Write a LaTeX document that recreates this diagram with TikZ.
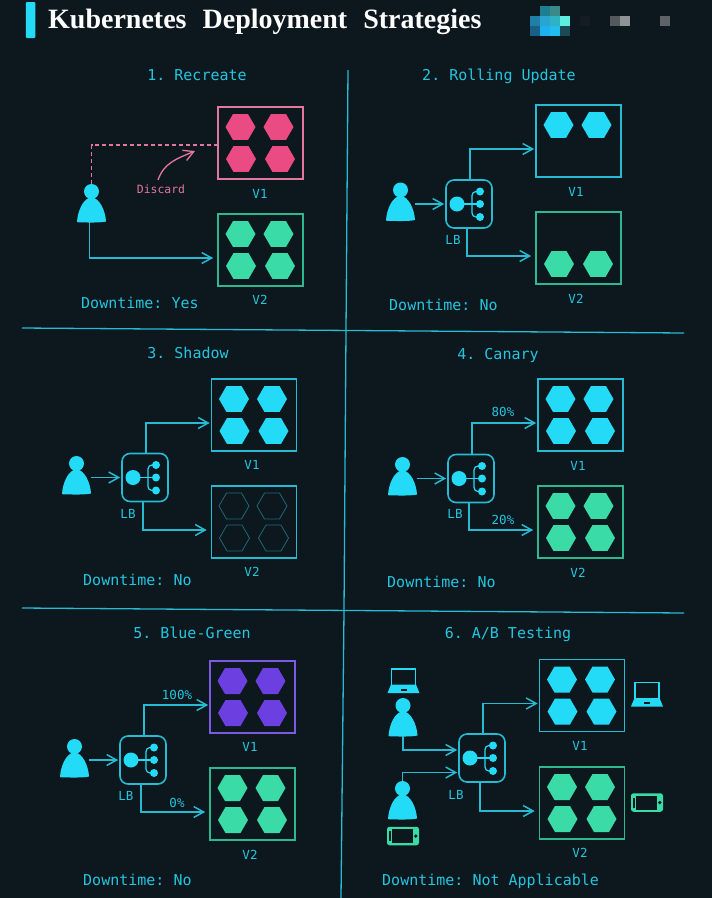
\documentclass[tikz,border=0pt]{standalone}
\usepackage{fontspec}
\setmonofont{DejaVu Sans Mono}
\newfontfamily\titlefont{Liberation Serif}
\usetikzlibrary{arrows.meta,shapes.geometric,positioning}
\definecolor{pagebg}{HTML}{0D171E}
\definecolor{shapecyan}{HTML}{24DBF7}
\definecolor{linecyan}{HTML}{27BBD3}
\definecolor{textcyan}{HTML}{24C6DF}
\definecolor{shapegreen}{HTML}{3ADBA6}
\definecolor{linegreen}{HTML}{2FB890}
\definecolor{shapepink}{HTML}{E94B82}
\definecolor{linepink}{HTML}{E2789F}
\definecolor{shapepurple}{HTML}{6C40E0}
\definecolor{linepurple}{HTML}{7C5AE2}
\definecolor{hexdim}{HTML}{1A6A7A}
\tikzset{
    >={Straight Barb[length=10pt,width=11pt]},
    %Define style for boxes
    verbox/.style={
           rectangle,
           draw=#1, line width=1.6pt,
           minimum width=85pt,
           minimum height=72pt,
           inner sep=0pt
           },
    hexcell/.style={
           regular polygon,
           regular polygon sides=6,
           minimum size=30pt,
           inner sep=0pt,
           outer sep=0pt
           },
    lbbox/.style={
           rectangle,
           rounded corners=8pt,
           draw=linecyan, line width=1.6pt,
           minimum width=46pt,
           minimum height=48pt,
           inner sep=0pt
           },
    personbox/.style={
           rectangle,
           minimum width=29pt,
           minimum height=38.5pt,
           inner sep=0pt,
           outer sep=0pt
           },
    heading/.style={
           font=\ttfamily\fontsize{15}{18}\selectfont,
           text=textcyan,
           inner sep=0pt
           },
    downtime/.style={
           heading,
           anchor=west
           },
    small/.style={
           font=\ttfamily\fontsize{12.5}{14}\selectfont,
           text=textcyan,
           inner sep=0pt
           },
    % Define arrow style
    flow/.style={
           ->,
           draw=linecyan,
           line width=1.5pt,
           shorten >=1pt
           },
    divider/.style={
           draw=linecyan,
           line width=1.3pt
           }
}
\newcommand{\blk}[3]{\definecolor{blk}{HTML}{#3}\fill[blk] (#1,#2) rectangle ++(10,10);}
% hexagons of a version box
\newcommand{\hextop}[2]{%
  \node[hexcell,#2] (#1a) at ([xshift=-20pt,yshift=16pt]#1.center) {};
  \node[hexcell,#2] (#1b) at ([xshift=18pt,yshift=16pt]#1.center) {};
}
\newcommand{\hexbot}[2]{%
  \node[hexcell,#2] (#1c) at ([xshift=-19.5pt,yshift=-16pt]#1.center) {};
  \node[hexcell,#2] (#1d) at ([xshift=19.5pt,yshift=-16pt]#1.center) {};
}
% person: name, x, y of the middle
\newcommand{\person}[3]{%
  \node[personbox] (#1) at (#2,#3) {};
  \begin{scope}[shift={(#2,#3)}]
    \fill[shapecyan] (0,-11.5) circle (7.5pt);
    \fill[shapecyan] (-14.5,19.2) .. controls (-14,8) and (-8,-5.5) .. (0,-5.5)
       .. controls (8,-5.5) and (14,8) .. (14.5,18.5)
       .. controls (8,20) and (-6,19.5) .. (-14.5,19.2) -- cycle;
  \end{scope}
}
% load balancer: name, x, y
\newcommand{\lbnode}[3]{%
  \node[lbbox] (#1) at (#2,#3) {};
  \begin{scope}[shift={(#2,#3)}]
    \fill[shapecyan] (-12,0) circle (7.5pt);
    \fill[shapecyan] (11,-12.5) circle (4pt) (11,0) circle (4pt) (11,13) circle (4pt);
    \draw[shapecyan,line width=1.2pt] (-12,0) -- (11,0);
    \draw[shapecyan,line width=1.2pt,rounded corners=4pt] (11,-12.5) -- (3,-12.5) -- (3,13) -- (11,13);
  \end{scope}
}
% laptop: name, x, y of the middle
\newcommand{\laptop}[3]{%
  \node[personbox,minimum width=32pt,minimum height=25pt] (#1) at (#2,#3) {};
  \begin{scope}[shift={(#2,#3)}]
    \draw[shapecyan,line width=1.6pt] (-12,5) -- (-12,-11.7) -- (12,-11.7) -- (12,5);
    \fill[shapecyan] (-12.5,4) -- (12.5,4) -- (16,12.5) -- (-16,12.5) -- cycle;
    \fill[pagebg] (-3,8) rectangle (3,10);
  \end{scope}
}
% phone: name, x, y of the middle
\newcommand{\phone}[3]{%
  \node[personbox,minimum width=32pt,minimum height=18.5pt,
     rounded corners=2.5pt,fill=shapegreen] (#1) at (#2,#3) {};
  \begin{scope}[shift={(#2,#3)}]
    \fill[pagebg] (-11,-7) rectangle (10,7);
    \fill[pagebg] (-14,-5) rectangle (-12.5,5);
    \fill[pagebg] (12.8,0) circle (1.8pt);
  \end{scope}
}
\begin{document}
\begin{tikzpicture}[x=1pt,y=-1pt]
\useasboundingbox (0,0) rectangle (712,898);
\fill[pagebg] (0,0) rectangle (712,898);

 %header
\node[rectangle,fill=shapecyan,rounded corners=1pt,minimum width=9.5pt,minimum height=36pt,inner sep=0pt] (bar) at (30.7,20) {};
\node[anchor=base west,inner sep=0pt,text=white,font=\titlefont\bfseries\fontsize{28}{32}\selectfont] (title) at (48,28) {Kubernetes\hspace{9pt} Deployment\hspace{9pt} Strategies};
\blk{540}{6}{1E7F93}
\blk{550}{6}{3A8A88}
\blk{530}{16}{1F7FA8}
\blk{540}{16}{2AA5CF}
\blk{550}{16}{2FB2C2}
\blk{560}{16}{5EEEE0}
\blk{530}{26}{1A5F85}
\blk{540}{26}{1EB0F0}
\blk{550}{26}{20BDEE}
\blk{560}{26}{1A4A55}
\blk{580}{16}{151C24}
\blk{610}{16}{55585C}
\blk{620}{16}{8F9396}
\blk{660}{16}{5F6266}

 %dividers
\coordinate (top) at (348,70);
\coordinate (mida) at (346,331);
\coordinate (midb) at (344,611);
\coordinate (bot) at (341,898);
\coordinate (rowal) at (22,328);
\coordinate (rowar) at (684,333);
\coordinate (rowbl) at (22,608);
\coordinate (rowbr) at (684,613);
\draw[divider] (top) -- (mida) -- (midb) -- (bot);
\draw[divider] (rowal) -- (rowar);
\draw[divider] (rowbl) -- (rowbr);

 %panel 1
\node[heading] (head1) at (197,75) {1. Recreate};
\person{user1}{91.5}{203}
\node[verbox=linepink] (v11) at (260.5,143) {};
\node[verbox=linegreen] (v21) at (260.5,250) {};
\hextop{v11}{fill=shapepink}
\hexbot{v11}{fill=shapepink}
\hextop{v21}{fill=shapegreen}
\hexbot{v21}{fill=shapegreen}
\node[small] (lv11) at (260,194) {V1};
\node[small] (lv21) at (260,300) {V2};
\node[small,font=\ttfamily\fontsize{11.4}{14}\selectfont,text=linepink] (discard) at (161,189) {Discard};
\coordinate (discardtip) at (195,151);
\node[downtime] (down1) at (81,303) {Downtime: Yes};
\draw[linepink,line width=1.5pt,dash pattern=on 4pt off 3pt] (user1.north) |- ([yshift=-2pt]v11.west);
\draw[flow] ([xshift=-2pt]user1.south) |- ([xshift=-3pt,yshift=-8pt]v21.west);
\draw[->,linepink,line width=1.3pt] (158,180) .. controls (164,163) and (176,159) .. (discardtip);

 %panel 2
\node[heading] (head2) at (499,76) {2. Rolling Update};
\person{user2}{400.5}{201.5}
\lbnode{lb2}{469}{204}
\node[verbox=linecyan] (v12) at (578.5,141) {};
\node[verbox=linegreen] (v22) at (578.5,248) {};
\hextop{v12}{fill=shapecyan}
\hexbot{v22}{fill=shapegreen}
\node[small] (lb2t) at (453,240) {LB};
\node[small] (lv12) at (576,192) {V1};
\node[small] (lv22) at (576,299) {V2};
\node[downtime] (down2) at (389,305) {Downtime: No};
\draw[flow] (lb2.west -| user2.east) -- (lb2.west);
\draw[flow] ([xshift=1pt]lb2.north) |- ([yshift=-8pt]v12.west);
\draw[flow] ([xshift=-2pt]lb2.south) |- ([xshift=-3pt,yshift=-8pt]v22.west);

 %panel 3
\node[heading] (head3) at (188,353) {3. Shadow};
\person{user3}{76.5}{475}
\lbnode{lb3}{145}{477.5}
\node[verbox=linecyan] (v13) at (254,415) {};
\node[verbox=linecyan] (v23) at (254,522) {};
\hextop{v13}{fill=shapecyan}
\hexbot{v13}{fill=shapecyan}
\hextop{v23}{draw=hexdim,line width=.8pt}
\hexbot{v23}{draw=hexdim,line width=.8pt}
\node[small] (lb3t) at (128,514) {LB};
\node[small] (lv13) at (252,465) {V1};
\node[small] (lv23) at (252,572) {V2};
\node[downtime] (down3) at (83,580) {Downtime: No};
\draw[flow] (lb3.west -| user3.east) -- (lb3.west);
\draw[flow] ([xshift=1pt]lb3.north) |- ([yshift=-8pt]v13.west);
\draw[flow] ([xshift=-2pt]lb3.south) |- ([xshift=-3pt,yshift=-8pt]v23.west);

 %panel 4
\node[heading] (head4) at (498,355) {4. Canary};
\person{user4}{402.5}{476}
\lbnode{lb4}{471}{478.5}
\node[verbox=linecyan] (v14) at (580.5,415) {};
\node[verbox=linegreen] (v24) at (580.5,522) {};
\hextop{v14}{fill=shapecyan}
\hexbot{v14}{fill=shapecyan}
\hextop{v24}{fill=shapegreen}
\hexbot{v24}{fill=shapegreen}
\node[small] (lb4t) at (455,514) {LB};
\node[small] (lv14) at (578,466) {V1};
\node[small] (lv24) at (578,573) {V2};
\node[small] (pct80) at (503,412) {80\%};
\node[small] (pct20) at (503,520) {20\%};
\node[downtime] (down4) at (387,582) {Downtime: No};
\draw[flow] (lb4.west -| user4.east) -- (lb4.west);
\draw[flow] ([xshift=1pt]lb4.north) |- ([yshift=-8pt]v14.west);
\draw[flow] ([xshift=-2pt]lb4.south) |- ([xshift=-3pt,yshift=-8pt]v24.west);

 %panel 5
\node[heading] (head5) at (192,633) {5. Blue-Green};
\person{user5}{74.5}{758}
\lbnode{lb5}{143}{760}
\node[verbox=linepurple] (v15) at (252.5,697) {};
\node[verbox=linegreen] (v25) at (252.5,804) {};
\hextop{v15}{fill=shapepurple}
\hexbot{v15}{fill=shapepurple}
\hextop{v25}{fill=shapegreen}
\hexbot{v25}{fill=shapegreen}
\node[small] (lb5t) at (126,796) {LB};
\node[small] (lv15) at (250,747) {V1};
\node[small] (lv25) at (250,855) {V2};
\node[small] (pct100) at (177,695) {100\%};
\node[small] (pct0) at (177,803) {0\%};
\node[downtime] (down5) at (83,880) {Downtime: No};
\draw[flow] (lb5.west -| user5.east) -- (lb5.west);
\draw[flow] ([xshift=1pt]lb5.north) |- ([yshift=-8pt]v15.west);
\draw[flow] ([xshift=-2pt]lb5.south) |- ([xshift=-3pt,yshift=-8pt]v25.west);

 %panel 6
\node[heading] (head6) at (508,634) {6. A/B Testing};
\laptop{pc6a}{403.5}{680.5}
\person{user6a}{403}{717}
\person{user6b}{402.5}{800}
\phone{ph6a}{403}{836}
\lbnode{lb6}{482}{758}
\node[verbox=linecyan] (v16) at (582,695.5) {};
\node[verbox=linegreen] (v26) at (582,803) {};
\hextop{v16}{fill=shapecyan}
\hexbot{v16}{fill=shapecyan}
\hextop{v26}{fill=shapegreen}
\hexbot{v26}{fill=shapegreen}
\laptop{pc6b}{647}{694}
\phone{ph6b}{647}{802.5}
\node[small] (lb6t) at (456,795) {LB};
\node[small] (lv16) at (580,746) {V1};
\node[small] (lv26) at (580,853) {V2};
\node[downtime] (down6) at (382,881) {Downtime: Not Applicable};
\draw[flow] (user6a.south) |- ([yshift=8pt]lb6.west);
\draw[flow] (user6b.north) |- ([yshift=-14.5pt]lb6.west);
\draw[flow] ([xshift=1pt]lb6.north) |- ([yshift=-8pt]v16.west);
\draw[flow] ([xshift=-2pt]lb6.south) |- ([xshift=-3pt,yshift=-8pt]v26.west);
\end{tikzpicture}
\end{document}
